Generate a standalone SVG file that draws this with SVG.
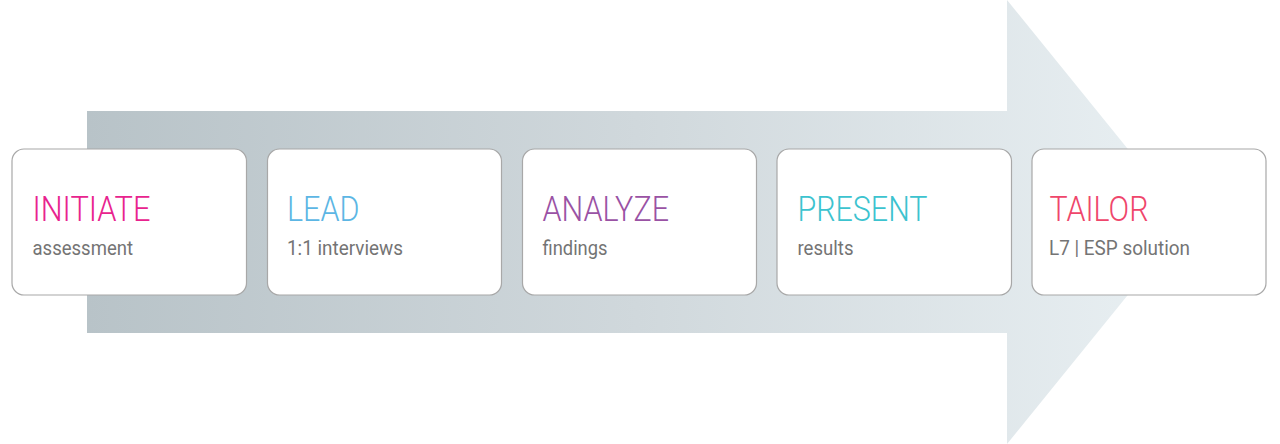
<svg xmlns="http://www.w3.org/2000/svg" width="1280" height="444" viewBox="0 0 1280 444">
<defs>
<linearGradient id="g" x1="87" y1="0" x2="1187" y2="0" gradientUnits="userSpaceOnUse">
<stop offset="0" stop-color="#b8c3c8"/>
<stop offset="0.5" stop-color="#d0d8dc"/>
<stop offset="1" stop-color="#e9f0f3"/>
</linearGradient>
<style>
.box{fill:#fff;stroke:#a8a8a8;stroke-width:1.2}
.t{font-family:Roboto,"Liberation Sans",sans-serif;font-weight:300;font-size:34.5px}
.s{font-family:Roboto,"Liberation Sans",sans-serif;font-weight:400;font-size:20px;fill:#747474}
</style>
</defs>
<rect width="1280" height="444" fill="#fff"/>
<g id="arrow">
<path d="M87 111 H1007 V0 L1187 222 L1007 444 V333 H87 Z" fill="url(#g)"/>
</g>
<g id="connectors"></g>
<g id="initiate">
<rect class="box" x="12" y="149" width="234.5" height="146" rx="12"/>
<text class="t" x="32.5" y="220.5" fill="#e8238e" textLength="118" lengthAdjust="spacingAndGlyphs">INITIATE</text>
<text class="s" x="32.5" y="255" textLength="100.5" lengthAdjust="spacingAndGlyphs">assessment</text>
</g>
<g id="lead">
<rect class="box" x="267.5" y="149" width="234" height="146" rx="12"/>
<text class="t" x="287" y="220.5" fill="#5cb6e4" textLength="72.5" lengthAdjust="spacingAndGlyphs">LEAD</text>
<text class="s" x="287" y="255" textLength="116" lengthAdjust="spacingAndGlyphs">1:1 interviews</text>
</g>
<g id="analyze">
<rect class="box" x="522.5" y="149" width="234" height="146" rx="12"/>
<text class="t" x="542.5" y="220.5" fill="#9a52a4" textLength="126.5" lengthAdjust="spacingAndGlyphs">ANALYZE</text>
<text class="s" x="542.5" y="255" textLength="65" lengthAdjust="spacingAndGlyphs">findings</text>
</g>
<g id="present">
<rect class="box" x="777" y="149" width="234.5" height="146" rx="12"/>
<text class="t" x="797.5" y="220.5" fill="#3cc3cf" textLength="130" lengthAdjust="spacingAndGlyphs">PRESENT</text>
<text class="s" x="797.5" y="255" textLength="56" lengthAdjust="spacingAndGlyphs">results</text>
</g>
<g id="tailor">
<rect class="box" x="1032" y="149" width="234" height="146" rx="12"/>
<text class="t" x="1049.5" y="220.5" fill="#ef466b" textLength="99" lengthAdjust="spacingAndGlyphs">TAILOR</text>
<text class="s" x="1049" y="255" textLength="141" lengthAdjust="spacingAndGlyphs">L7 | ESP solution</text>
</g>
</svg>
